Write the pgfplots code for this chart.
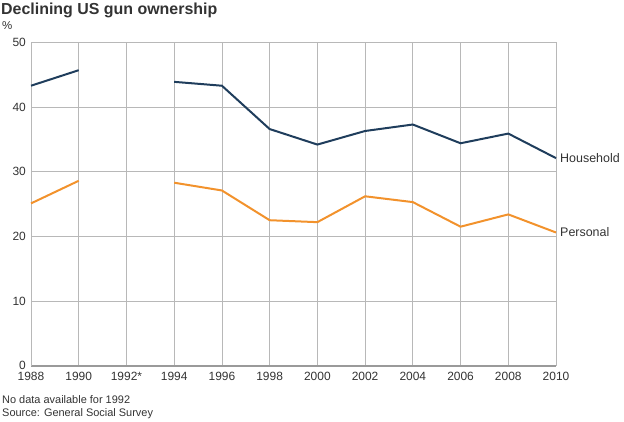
\documentclass[border=0pt]{standalone}
\usepackage{pgfplots}
\pgfplotsset{compat=1.18}
\usepackage{pgfplotstable}
\usepackage{fontspec}
\setmainfont{Liberation Sans}

\definecolor{household}{HTML}{1F3D5C}
\definecolor{personal}{HTML}{F2922C}
\definecolor{gridgray}{HTML}{B8B8B8}
\definecolor{axisgray}{HTML}{9A9A9A}
\definecolor{textgray}{HTML}{333333}

% GSS gun ownership, percent (no survey in 1992)
\pgfplotstableread{
year household personal
1988 43.3 25.1
1990 45.7 28.6
1992 nan  nan
1994 43.9 28.3
1996 43.3 27.1
1998 36.6 22.5
2000 34.2 22.2
2002 36.3 26.2
2004 37.3 25.3
2006 34.4 21.5
2008 35.9 23.4
2010 32.1 20.6
}\gundata

\begin{document}
\begin{tikzpicture}[x=1bp,y=1bp]
\path[use as bounding box] (0,0) rectangle (624,421);
\begin{axis}[
  at={(31bp,55.3bp)}, anchor=south west,
  scale only axis, width=525bp, height=323.3bp,
  xmin=1988, xmax=2010, ymin=0, ymax=50,
  xtick={1988,1990,...,2010},
  xticklabels={1988,1990,1992*,1994,1996,1998,2000,2002,2004,2006,2008,2010},
  ytick={0,10,...,50},
  /pgf/number format/assume math mode=true,
  grid=major,
  major grid style={gridgray, line width=0.8bp},
  axis x line=bottom, axis y line=left,
  x axis line style={axisgray, line width=2.4bp, -},
  y axis line style={gridgray, line width=0.8bp, -},
  major tick length=0pt,
  tick label style={font=\fontsize{12}{12}\selectfont, text=textgray},
  xticklabel style={anchor=north, inner sep=0pt, yshift=-6.5bp},
  yticklabel style={anchor=east, inner sep=0pt, xshift=-5bp, yshift=0bp},
  unbounded coords=jump,
  clip=false,
]
\addplot[household, line width=2bp] table[x=year, y=household] {\gundata};
\addplot[personal, line width=2bp] table[x=year, y=personal] {\gundata};
\node[anchor=west, inner sep=0, xshift=4bp, text=textgray,
      font=\fontsize{12.5}{13}\selectfont] at (axis cs:2010,32.1) {Household};
\node[anchor=west, inner sep=0, xshift=4bp, text=textgray,
      font=\fontsize{12.5}{13}\selectfont] at (axis cs:2010,20.6) {Personal};
\end{axis}
\node[anchor=base west, inner sep=0, text=textgray, font=\fontsize{16}{18}\selectfont\bfseries] at (1,406) {Declining US gun ownership};
\node[anchor=base west, inner sep=0, text=textgray, font=\fontsize{11.5}{12}\selectfont] at (2,391.5) {\%};
\node[anchor=base west, inner sep=0, text=textgray, font=\fontsize{11}{12}\selectfont] at (2,18) {No data available for 1992};
\node[anchor=base west, inner sep=0, text=textgray, font=\fontsize{11}{12}\selectfont] at (2,4.7) {Source: General Social Survey};
\end{tikzpicture}
\end{document}
